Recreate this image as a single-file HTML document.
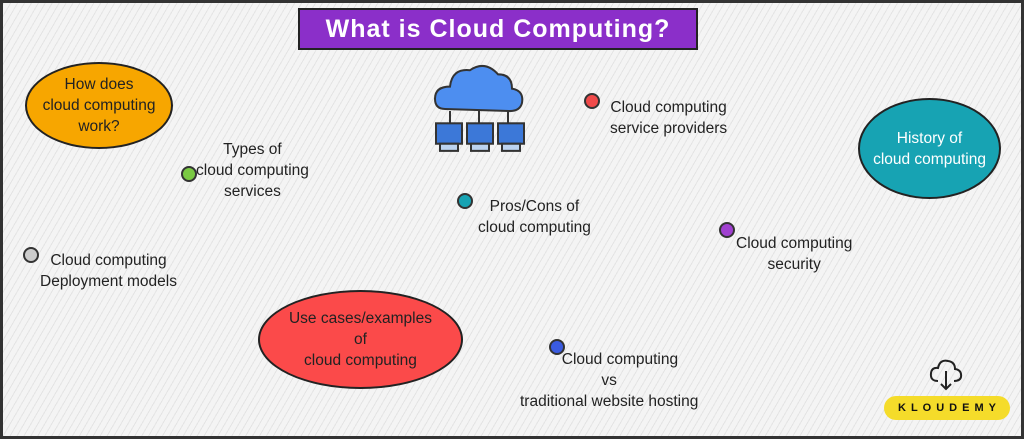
<!DOCTYPE html>
<html><head><style>
body{margin:0;width:1024px;height:439px;overflow:hidden;font-family:"Liberation Sans",sans-serif}
.bg{position:absolute;left:0;top:0;width:1024px;height:439px;box-sizing:border-box;border:3px solid #333;background:repeating-linear-gradient(-60deg,#f4f4f4 0 5px,#e4e4e4 5px 6px)}
.t{position:absolute;font-size:15.5px;color:#222;text-align:center;line-height:21px;white-space:nowrap}
.el{position:absolute;border:2px solid #222;border-radius:50%;box-sizing:border-box;display:flex;align-items:center;justify-content:center;text-align:center;font-size:15.5px;line-height:21px}
.d{position:absolute;width:16px;height:16px;border-radius:50%;border:2px solid #333;box-sizing:border-box}
</style></head><body>
<div class="bg"></div>
<div style="position:absolute;left:298px;top:8px;width:400px;height:42px;background:#8b2fc9;border:2px solid #222;box-sizing:border-box;color:#fff;font-size:25px;font-weight:bold;display:flex;align-items:center;justify-content:center;letter-spacing:1px">What is Cloud Computing?</div>
<div class="el" style="left:25px;top:62px;width:148px;height:87px;background:#f7a600;color:#222">How does<br>cloud computing<br>work?</div>
<div class="el" style="left:858px;top:98px;width:143px;height:101px;background:#17a3b3;color:#fff">History of<br>cloud computing</div>
<div class="el" style="left:258px;top:290px;width:205px;height:99px;background:#fb4a4a;color:#222">Use cases/examples<br>of<br>cloud computing</div>
<svg style="position:absolute;left:430px;top:60px" width="100" height="97" viewBox="0 0 100 95" preserveAspectRatio="none">
<path d="M15 48 Q5 48 5 38 Q5 26 20 26 Q22 8 40 10 Q55 0 68 14 Q82 14 82 28 Q94 30 92 42 Q90 50 80 50 Z" fill="#4d8ef0" stroke="#333" stroke-width="2"/>
<path d="M49 50 V62 M20 50 V62 M78 50 V62" stroke="#333" stroke-width="2"/>
<g fill="#3c78d8" stroke="#333" stroke-width="2"><rect x="6" y="62" width="26" height="20"/><rect x="37" y="62" width="26" height="20"/><rect x="68" y="62" width="26" height="20"/></g>
<g fill="#bcd3f0" stroke="#333" stroke-width="2"><rect x="10" y="82" width="18" height="7"/><rect x="41" y="82" width="18" height="7"/><rect x="72" y="82" width="18" height="7"/></g>
</svg>
<div class="d" style="left:181px;top:166px;background:#7ac943"></div>
<div class="t" style="left:196px;top:139px">Types of<br>cloud computing<br>services</div>
<div class="d" style="left:23px;top:247px;background:#ccc"></div>
<div class="t" style="left:40px;top:250px">Cloud computing<br>Deployment models</div>
<div class="d" style="left:457px;top:193px;background:#17a3b3"></div>
<div class="t" style="left:478px;top:196px">Pros/Cons of<br>cloud computing</div>
<div class="d" style="left:584px;top:93px;background:#f04a4a"></div>
<div class="t" style="left:610px;top:97px">Cloud computing<br>service providers</div>
<div class="d" style="left:719px;top:222px;background:#a040d0"></div>
<div class="t" style="left:736px;top:233px">Cloud computing<br>security</div>
<div class="d" style="left:549px;top:339px;background:#3a5be0"></div>
<div class="t" style="left:520px;top:349px">&nbsp;&nbsp;&nbsp;&nbsp;&nbsp;Cloud computing<br>vs<br>traditional website hosting</div>
<svg style="position:absolute;left:928px;top:357px" width="36" height="36"><path d="M10 24 Q2 24 3 16 Q4 10 10 11 Q12 2 20 4 Q27 5 27 12 Q34 13 33 20 Q32 24 26 24" fill="none" stroke="#222" stroke-width="2"/><path d="M18 14 V32 M13 27 L18 32 L23 27" fill="none" stroke="#222" stroke-width="2"/></svg>
<div style="position:absolute;left:884px;top:396px;width:126px;height:24px;background:#f5dc2a;border-radius:12px;font-size:11px;font-weight:bold;letter-spacing:5px;display:flex;align-items:center;justify-content:center;color:#111;padding-left:5px;box-sizing:border-box">KLOUDEMY</div>
</body></html>
